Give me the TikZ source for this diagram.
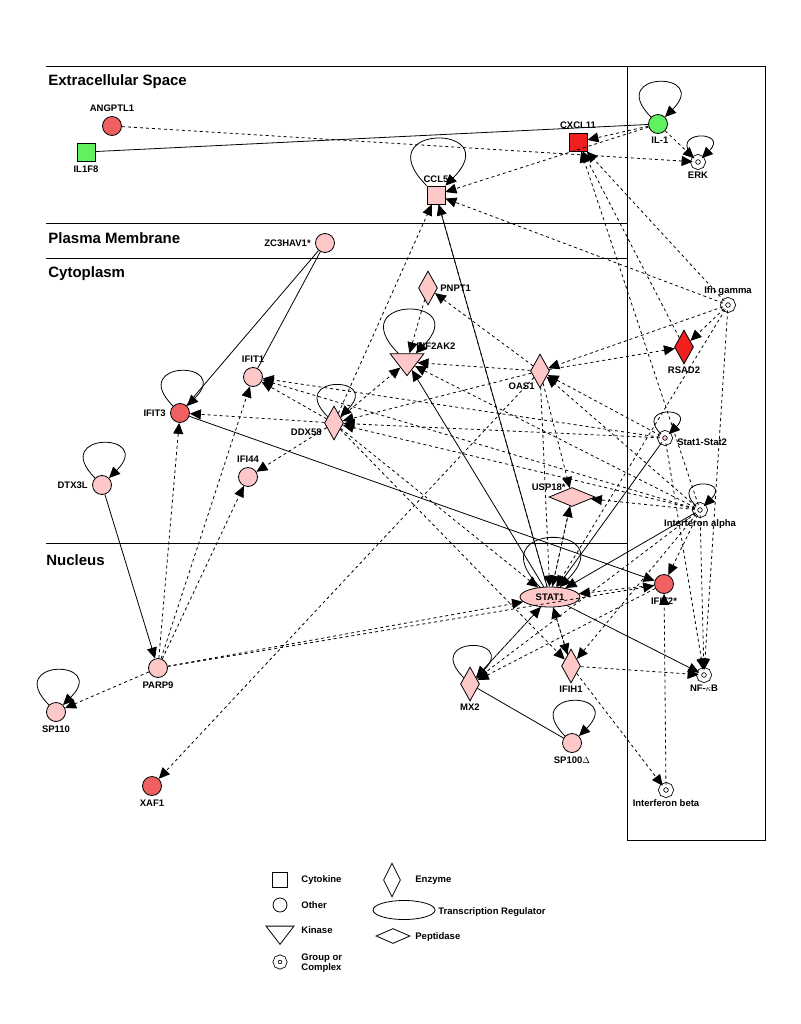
\documentclass[tikz,border=0pt]{standalone}
\usepackage{fontspec}
\setmainfont{Liberation Sans}
\usetikzlibrary{arrows.meta,shapes.geometric,positioning}
\definecolor{pk}{HTML}{FFC8C8}
\definecolor{rd}{HTML}{F06060}
\definecolor{rr}{HTML}{F02020}
\definecolor{gr}{HTML}{60F060}
\begin{document}
\begin{tikzpicture}[x=1pt,y=-1pt,line width=0.8pt,
 lb/.style={font=\bfseries\fontsize{9.5}{10}\selectfont,inner sep=1pt},
 hd/.style={font=\bfseries\fontsize{15}{16}\selectfont,anchor=west,inner sep=0},
 circ/.style={circle,draw,minimum size=19pt,inner sep=0,fill=pk},
 sq/.style={rectangle,draw,minimum size=18pt,inner sep=0},
 dia/.style={diamond,draw,fill=pk,minimum width=19pt,minimum height=34pt,inner sep=0,aspect=0.55},
 hdia/.style={diamond,draw,fill=pk,minimum width=46pt,minimum height=19pt,inner sep=0,aspect=2.4},
 grp/.style={circle,draw,double,double distance=4pt,minimum size=10pt,inner sep=0,fill=white},
 tri/.style={isosceles triangle,shape border rotate=-90,isosceles triangle apex angle=75,draw,fill=pk,minimum width=32pt,minimum height=22pt,inner sep=0},
 tip/.style={-{Triangle[length=11pt,width=10pt]}},
 da/.style={tip,dashed},
 so/.style={tip},
 lp/.style={tip,looseness=12,min distance=40pt}]
\useasboundingbox (0,0) rectangle (800,1024);
% compartments
\draw[thick] (46,66) -- (627,66);
\draw[thick] (46,223) -- (627,223);
\draw[thick] (46,258) -- (627,258);
\draw[thick] (46,543) -- (627,543);
\draw[thick] (627,66) rectangle (765,840);
\node[hd] at (48,82) {Extracellular Space};
\node[hd] at (48,238) {Plasma Membrane};
\node[hd] at (48,274) {Cytoplasm};
\node[hd] at (46,560) {Nucleus};
% nodes
\node[circ,fill=rd] (angptl) at (112,126) {};
\node[lb,above=3pt of angptl] {ANGPTL1};
\node[sq,fill=gr] (il1f8) at (86,152) {};
\node[lb,below=3pt of il1f8] {IL1F8};
\node[sq,fill=rr] (cxcl11) at (578,142) {};
\node[lb,above=3pt of cxcl11] {CXCL11};
\node[circ,fill=gr] (il1) at (658,124) {};
\node[lb,anchor=north west] at (650,136) {IL-1};
\node[grp] (erk) at (698,162) {};
\node[lb,below=3pt of erk] {ERK};
\node[sq,fill=pk] (ccl5) at (436,195) {};
\node[lb,above=2pt of ccl5] {CCL5};
\node[circ] (zc) at (325,243) {};
\node[lb,left=3pt of zc] {ZC3HAV1*};
\node[dia] (pnpt1) at (428,288) {};
\node[lb,right=1pt of pnpt1] {PNPT1};
\node[grp] (ifng) at (728,305) {};
\node[lb,above=3pt of ifng] {Ifn gamma};
\node[tri] (eif) at (407,362) {};
\node[lb,anchor=west] at (415,346) {EIF2AK2};
\node[dia,fill=rr] (rsad2) at (684,347) {};
\node[lb,below=1pt of rsad2] {RSAD2};
\node[dia] (oas1) at (540,371) {};
\node[lb,anchor=east] at (536,386) {OAS1};
\node[circ] (ifit1) at (253,377) {};
\node[lb,above=3pt of ifit1] {IFIT1};
\node[circ,fill=rd] (ifit3) at (180,413) {};
\node[lb,left=3pt of ifit3] {IFIT3};
\node[dia] (ddx58) at (334,423) {};
\node[lb,anchor=east] at (323,432) {DDX58};
\node[grp,fill=pk] (ss) at (665,438) {};
\node[lb,anchor=west] at (676,442) {Stat1-Stat2};
\node[circ] (ifi44) at (248,477) {};
\node[lb,above=3pt of ifi44] {IFI44};
\node[hdia] (usp18) at (572,497) {};
\node[lb,anchor=east] at (567,487) {USP18*};
\node[circ] (dtx3l) at (102,485) {};
\node[lb,left=3pt of dtx3l] {DTX3L};
\node[grp] (ifna) at (700,510) {};
\node[lb,below=3pt of ifna] {Interferon alpha};
\node[ellipse,draw,fill=pk,minimum width=60pt,minimum height=20pt,inner sep=0,font=\bfseries\fontsize{9.5}{10}\selectfont] (stat1) at (550,597) {STAT1};
\node[circ,fill=rd] (ifit2) at (664,584) {};
\node[lb,below=3pt of ifit2] {IFIT2*};
\node[circ] (parp9) at (158,668) {};
\node[lb,below=3pt of parp9] {PARP9};
\node[dia] (ifih1) at (571,666) {};
\node[lb,below=1pt of ifih1] {IFIH1};
\node[grp] (nfkb) at (704,675) {};
\node[lb,below=3pt of nfkb] {NF-$\kappa$B};
\node[dia] (mx2) at (470,684) {};
\node[lb,below=1pt of mx2] {MX2};
\node[circ] (sp100) at (572,743) {};
\node[lb,below=3pt of sp100] {SP100$\Delta$};
\node[circ] (sp110) at (56,712) {};
\node[lb,below=3pt of sp110] {SP110};
\node[circ,fill=rd] (xaf1) at (152,786) {};
\node[lb,below=3pt of xaf1] {XAF1};
\node[grp] (ifnb) at (666,790) {};
\node[lb,below=3pt of ifnb] {Interferon beta};
% self loops
\foreach \n in {il1,erk,ccl5,eif,ifit3,ddx58,ss,dtx3l,ifna,stat1,mx2,sp100,sp110}
  \draw[lp] (\n) to[out=135,in=45] (\n);
% solid edges
\draw (il1f8) -- (il1);
\draw (ifit3) -- (zc);
\draw (ifit1) -- (zc);
\draw[so] (ifit3) -- (ifit2);
\draw[so] (dtx3l) -- (parp9);
\draw (mx2) -- (sp100);
\draw[so] (stat1) -- (nfkb);
\draw (ccl5) -- (stat1);
\draw[so] (stat1) -- (eif);
\draw[so] (ss) -- (stat1);
\draw[so] (ifna) -- (stat1);
% dashed edges
\foreach \a/\b in {angptl/erk,il1/cxcl11,il1/ccl5,il1/erk,ifng/ccl5,ifng/cxcl11,rsad2/cxcl11,ifna/cxcl11,
 ddx58/ccl5,stat1/ccl5,oas1/pnpt1,oas1/eif,oas1/rsad2,ifng/rsad2,ifng/oas1,ifng/stat1,ifng/nfkb,
 ifna/oas1,ifna/eif,ifna/ddx58,ifna/ifit1,ifna/usp18,ifna/ifit2,ifna/ifih1,ifna/mx2,ifna/nfkb,
 ss/oas1,ss/ddx58,ss/ifit1,ss/nfkb,
 ddx58/ifit3,ddx58/ifit1,ddx58/eif,ddx58/stat1,ddx58/ifih1,ddx58/ifi44,
 pnpt1/eif,oas1/ddx58,oas1/usp18,oas1/stat1,oas1/xaf1,stat1/usp18,stat1/ifih1,stat1/mx2,
 parp9/ifit1,parp9/ifit3,parp9/ifi44,parp9/stat1,parp9/ifit2,parp9/sp110,
 ifih1/nfkb,ifih1/stat1,ifit2/mx2,ifit2/stat1,ifnb/ifit2,ifih1/ifnb,usp18/stat1,mx2/stat1}
  \draw[da] (\a) -- (\b);
% legend
\node[sq,fill=white,minimum size=15pt] (l1) at (280,880) {};
\node[lb,anchor=west] at (300,880) {Cytokine};
\node[circle,draw,minimum size=14pt,inner sep=0] (l2) at (280,905) {};
\node[lb,anchor=west] at (300,905) {Other};
\node[isosceles triangle,shape border rotate=-90,isosceles triangle apex angle=75,draw,minimum width=28pt,minimum height=18pt,inner sep=0] (l3) at (280,933) {};
\node[lb,anchor=west] at (300,930) {Kinase};
\node[circle,draw,double,double distance=4pt,minimum size=9pt,inner sep=0] (l4) at (280,962) {};
\node[lb,anchor=west,align=left] at (300,963) {Group or\\Complex};
\node[diamond,draw,minimum width=17pt,minimum height=34pt,inner sep=0,aspect=0.5] (l5) at (392,880) {};
\node[lb,anchor=west] at (414,880) {Enzyme};
\node[ellipse,draw,minimum width=62pt,minimum height=19pt,inner sep=0] (l6) at (404,910) {};
\node[lb,anchor=west] at (437,912) {Transcription Regulator};
\node[diamond,draw,minimum width=34pt,minimum height=15pt,inner sep=0,aspect=2.3] (l7) at (393,936) {};
\node[lb,anchor=west] at (414,937) {Peptidase};
\end{tikzpicture}
\end{document}
